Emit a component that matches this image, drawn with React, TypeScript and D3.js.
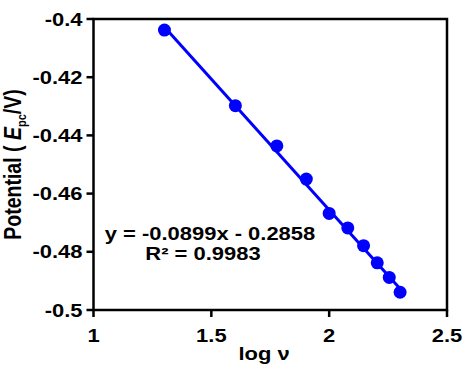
import React from "react";
import * as d3 from "d3";

const logScanRate = [1.301, 1.602, 1.778, 1.903, 2.0, 2.079, 2.146, 2.204, 2.255, 2.301];
const potential = [-0.4038, -0.4298, -0.4436, -0.455, -0.4668, -0.4718, -0.4779, -0.4838, -0.4888, -0.4939];
const slope = -0.0899;
const intercept = -0.2858;
const xTicks = [1, 1.5, 2, 2.5];
const yTicks = [-0.4, -0.42, -0.44, -0.46, -0.48, -0.5];
const equationText = "y = -0.0899x - 0.2858";
const r2Text = "R² = 0.9983";

const W = 474;
const H = 366;
const left = 93.5;
const right = 447;
const top = 19;
const bottom = 310;
const FONT = "'Liberation Sans', Arial, sans-serif";
const BLUE = "#0000ff";
const SX = 1.22;
const FS = 18;

function SText({ x, y, anchor, size = FS, children }: { x: number; y: number; anchor: string; size?: number; children: React.ReactNode }) {
  return (
    <text transform={`translate(${x},${y}) scale(${SX},1)`} textAnchor={anchor} fontSize={size}>
      {children}
    </text>
  );
}

export default function App() {
  const x = d3.scaleLinear().domain([1, 2.5]).range([left, right]);
  const y = d3.scaleLinear().domain([-0.5, -0.4]).range([bottom, top]);
  const xMin = d3.min(logScanRate)!;
  const xMax = d3.max(logScanRate)!;
  const trend = d3
    .line<number>()
    .x((d) => x(d))
    .y((d) => y(slope * d + intercept))([xMin, xMax]);

  return (
    <svg
      width={W}
      height={H}
      style={{ position: "absolute", left: 0, top: 0, background: "#fff" }}
      fontFamily={FONT}
      fontWeight="bold"
    >
      <rect x={left} y={top} width={right - left} height={bottom - top} fill="none" stroke="#000" strokeWidth={2.5} />
      {yTicks.map((t) => (
        <g key={"y" + t}>
          <line x1={left - 7} x2={left} y1={y(t)} y2={y(t)} stroke="#000" strokeWidth={2.5} />
          <SText x={left - 11} y={y(t) + 6.5} anchor="end">
            {String(t)}
          </SText>
        </g>
      ))}
      {xTicks.map((t) => (
        <g key={"x" + t}>
          <line x1={x(t)} x2={x(t)} y1={bottom} y2={bottom + 7} stroke="#000" strokeWidth={2.5} />
          <SText x={x(t)} y={bottom + 32} anchor="middle">
            {String(t)}
          </SText>
        </g>
      ))}
      <path d={trend ?? ""} stroke={BLUE} strokeWidth={3} fill="none" />
      {logScanRate.map((v, i) => (
        <circle key={i} cx={x(v)} cy={y(potential[i])} r={6.5} fill={BLUE} />
      ))}
      <SText x={210} y={240} anchor="middle">
        {equationText}
      </SText>
      <SText x={203} y={260} anchor="middle">
        {r2Text}
      </SText>
      <SText x={264} y={360} anchor="middle">
        log ν
      </SText>
      <text
        transform={`translate(21,${(top + bottom) / 2}) scale(${SX},1) rotate(-90)`}
        textAnchor="middle"
        fontSize={19.5}
      >
        Potential (
        <tspan fontStyle="italic">{"\u00a0"}E</tspan>
        <tspan fontSize={11} dy={4}>pc</tspan>
        <tspan dy={-4}>/V)</tspan>
      </text>
    </svg>
  );
}
